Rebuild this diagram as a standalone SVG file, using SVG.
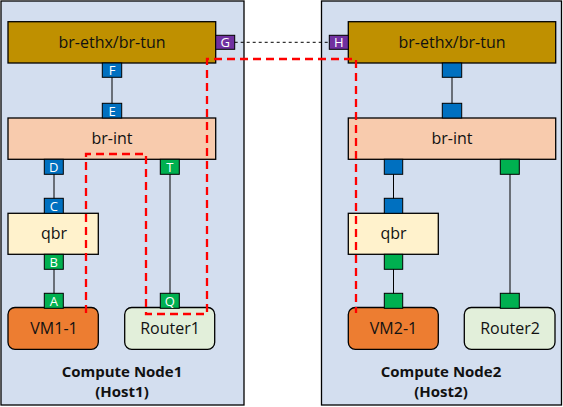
<svg xmlns="http://www.w3.org/2000/svg" width="563" height="407" viewBox="0 0 563 407">
<defs>
<style>
.host{fill:#D3DEEF;stroke:#000;stroke-width:1.3}
.box{stroke:#000;stroke-width:1.3}
.t{font-family:"Open Sans","Noto Sans","Liberation Sans",sans-serif;font-size:16px;fill:#111;text-anchor:middle}
.h{font-family:"Open Sans","Noto Sans","Liberation Sans",sans-serif;font-size:15px;font-weight:bold;fill:#111;text-anchor:middle}
.p{stroke:#000;stroke-width:1}
.pb{fill:#0070C0}.pg{fill:#00B050}.pv{fill:#7030A0}
.pl{font-family:"Open Sans","Noto Sans","Liberation Sans",sans-serif;font-size:13px;fill:#fff;text-anchor:middle}
.ln{stroke:#000;stroke-width:1;fill:none}
</style>
</defs>
<g id="host1">
<rect class="host" x="1" y="1" width="243" height="404"/>
<text class="h" x="122" y="377">Compute Node1</text>
<text class="h" x="122" y="397">(Host1)</text>
</g>
<g id="host2">
<rect class="host" x="321.5" y="1" width="240" height="404"/>
<text class="h" x="441" y="377">Compute Node2</text>
<text class="h" x="441" y="397">(Host2)</text>
</g>
<g id="connectors">
<line class="ln" x1="112" y1="77" x2="112" y2="104"/>
<line class="ln" x1="54" y1="174" x2="54" y2="199"/>
<line class="ln" x1="54" y1="269" x2="54" y2="294"/>
<line class="ln" x1="170" y1="174" x2="170" y2="294"/>
<line class="ln" x1="452" y1="77" x2="452" y2="104"/>
<line class="ln" x1="393.5" y1="174" x2="393.5" y2="199"/>
<line class="ln" x1="393.5" y1="269" x2="393.5" y2="294"/>
<line class="ln" x1="510" y1="174" x2="510" y2="294"/>
<line x1="234.7" y1="42.3" x2="329.3" y2="42.3" stroke="#000" stroke-width="1" stroke-dasharray="3,3"/>
</g>
<g id="ethx1"><rect class="box" x="8" y="21.7" width="207.7" height="41.3" fill="#BF9000"/><text class="t" x="112" y="48">br-ethx/br-tun</text></g>
<g id="int1"><rect class="box" x="8" y="118" width="207.7" height="41.3" fill="#F8CBAD"/><text class="t" x="112" y="144">br-int</text></g>
<g id="qbr1"><rect class="box" x="8" y="213.3" width="90.3" height="41" fill="#FFF2CC"/><text class="t" x="54" y="239">qbr</text></g>
<g id="vm1"><rect class="box" x="8" y="307.5" width="90.3" height="41.8" rx="7" fill="#ED7D31"/><text class="t" x="54" y="334">VM1-1</text></g>
<g id="router1"><rect class="box" x="124.7" y="307.5" width="90" height="41.8" rx="7" fill="#E2EFDA"/><text class="t" x="170" y="334">Router1</text></g>
<g id="ethx2"><rect class="box" x="348.3" y="21.7" width="207.4" height="41.3" fill="#BF9000"/><text class="t" x="452" y="48">br-ethx/br-tun</text></g>
<g id="int2"><rect class="box" x="348.3" y="118" width="207.4" height="41.3" fill="#F8CBAD"/><text class="t" x="452" y="144">br-int</text></g>
<g id="qbr2"><rect class="box" x="348.3" y="213.3" width="90" height="41" fill="#FFF2CC"/><text class="t" x="393.5" y="239">qbr</text></g>
<g id="vm2"><rect class="box" x="348.3" y="307.5" width="90" height="41.8" rx="7" fill="#ED7D31"/><text class="t" x="393.5" y="334">VM2-1</text></g>
<g id="router2"><rect class="box" x="464.3" y="307.5" width="90.7" height="41.8" rx="7" fill="#E2EFDA"/><text class="t" x="510" y="334">Router2</text></g>
<g id="portG"><rect class="p pv" x="215.7" y="35.3" width="19" height="14"/><text class="pl" x="225.2" y="47">G</text></g>
<g id="portH"><rect class="p pv" x="329.3" y="35.3" width="19" height="14"/><text class="pl" x="338.8" y="47">H</text></g>
<g id="portF"><rect class="p pb" x="102.3" y="63" width="19.4" height="14.3"/><text class="pl" x="112" y="75">F</text></g>
<g id="portE"><rect class="p pb" x="102.3" y="103.3" width="19.4" height="14.7"/><text class="pl" x="112" y="115.5">E</text></g>
<g id="portD"><rect class="p pb" x="44.3" y="159.3" width="19" height="15"/><text class="pl" x="53.8" y="171.5">D</text></g>
<g id="portC"><rect class="p pb" x="44.3" y="198.3" width="19" height="15"/><text class="pl" x="53.8" y="210.5">C</text></g>
<g id="portB"><rect class="p pg" x="44.3" y="254.3" width="19" height="15"/><text class="pl" x="53.8" y="266.5">B</text></g>
<g id="portA"><rect class="p pg" x="44.3" y="293.3" width="19" height="15"/><text class="pl" x="53.8" y="305.5">A</text></g>
<g id="portT"><rect class="p pg" x="160.3" y="159.3" width="19" height="15"/><text class="pl" x="169.8" y="171.5">T</text></g>
<g id="portQ"><rect class="p pg" x="160.3" y="293.3" width="19" height="15"/><text class="pl" x="169.8" y="305.5">Q</text></g>
<g id="port2a"><rect class="p pb" x="442.3" y="63" width="19.4" height="14.3"/></g>
<g id="port2b"><rect class="p pb" x="442.3" y="103.3" width="19.4" height="14.7"/></g>
<g id="port2c"><rect class="p pb" x="384.3" y="159.3" width="18.4" height="15"/></g>
<g id="port2d"><rect class="p pb" x="384.3" y="198.3" width="18.4" height="15"/></g>
<g id="port2e"><rect class="p pg" x="384.3" y="254.3" width="18.4" height="15"/></g>
<g id="port2f"><rect class="p pg" x="384.3" y="293.3" width="18.4" height="15"/></g>
<g id="port2g"><rect class="p pg" x="500.3" y="159.3" width="19" height="15"/></g>
<g id="port2h"><rect class="p pg" x="500.3" y="293.3" width="19" height="15"/></g>
<g id="path">
<polyline points="86,313 86,154 146,154 146,314 207,314 207,59 356,59 356,313" fill="none" stroke="#FF0000" stroke-width="2.3" stroke-dasharray="8,5"/>
</g>
</svg>
